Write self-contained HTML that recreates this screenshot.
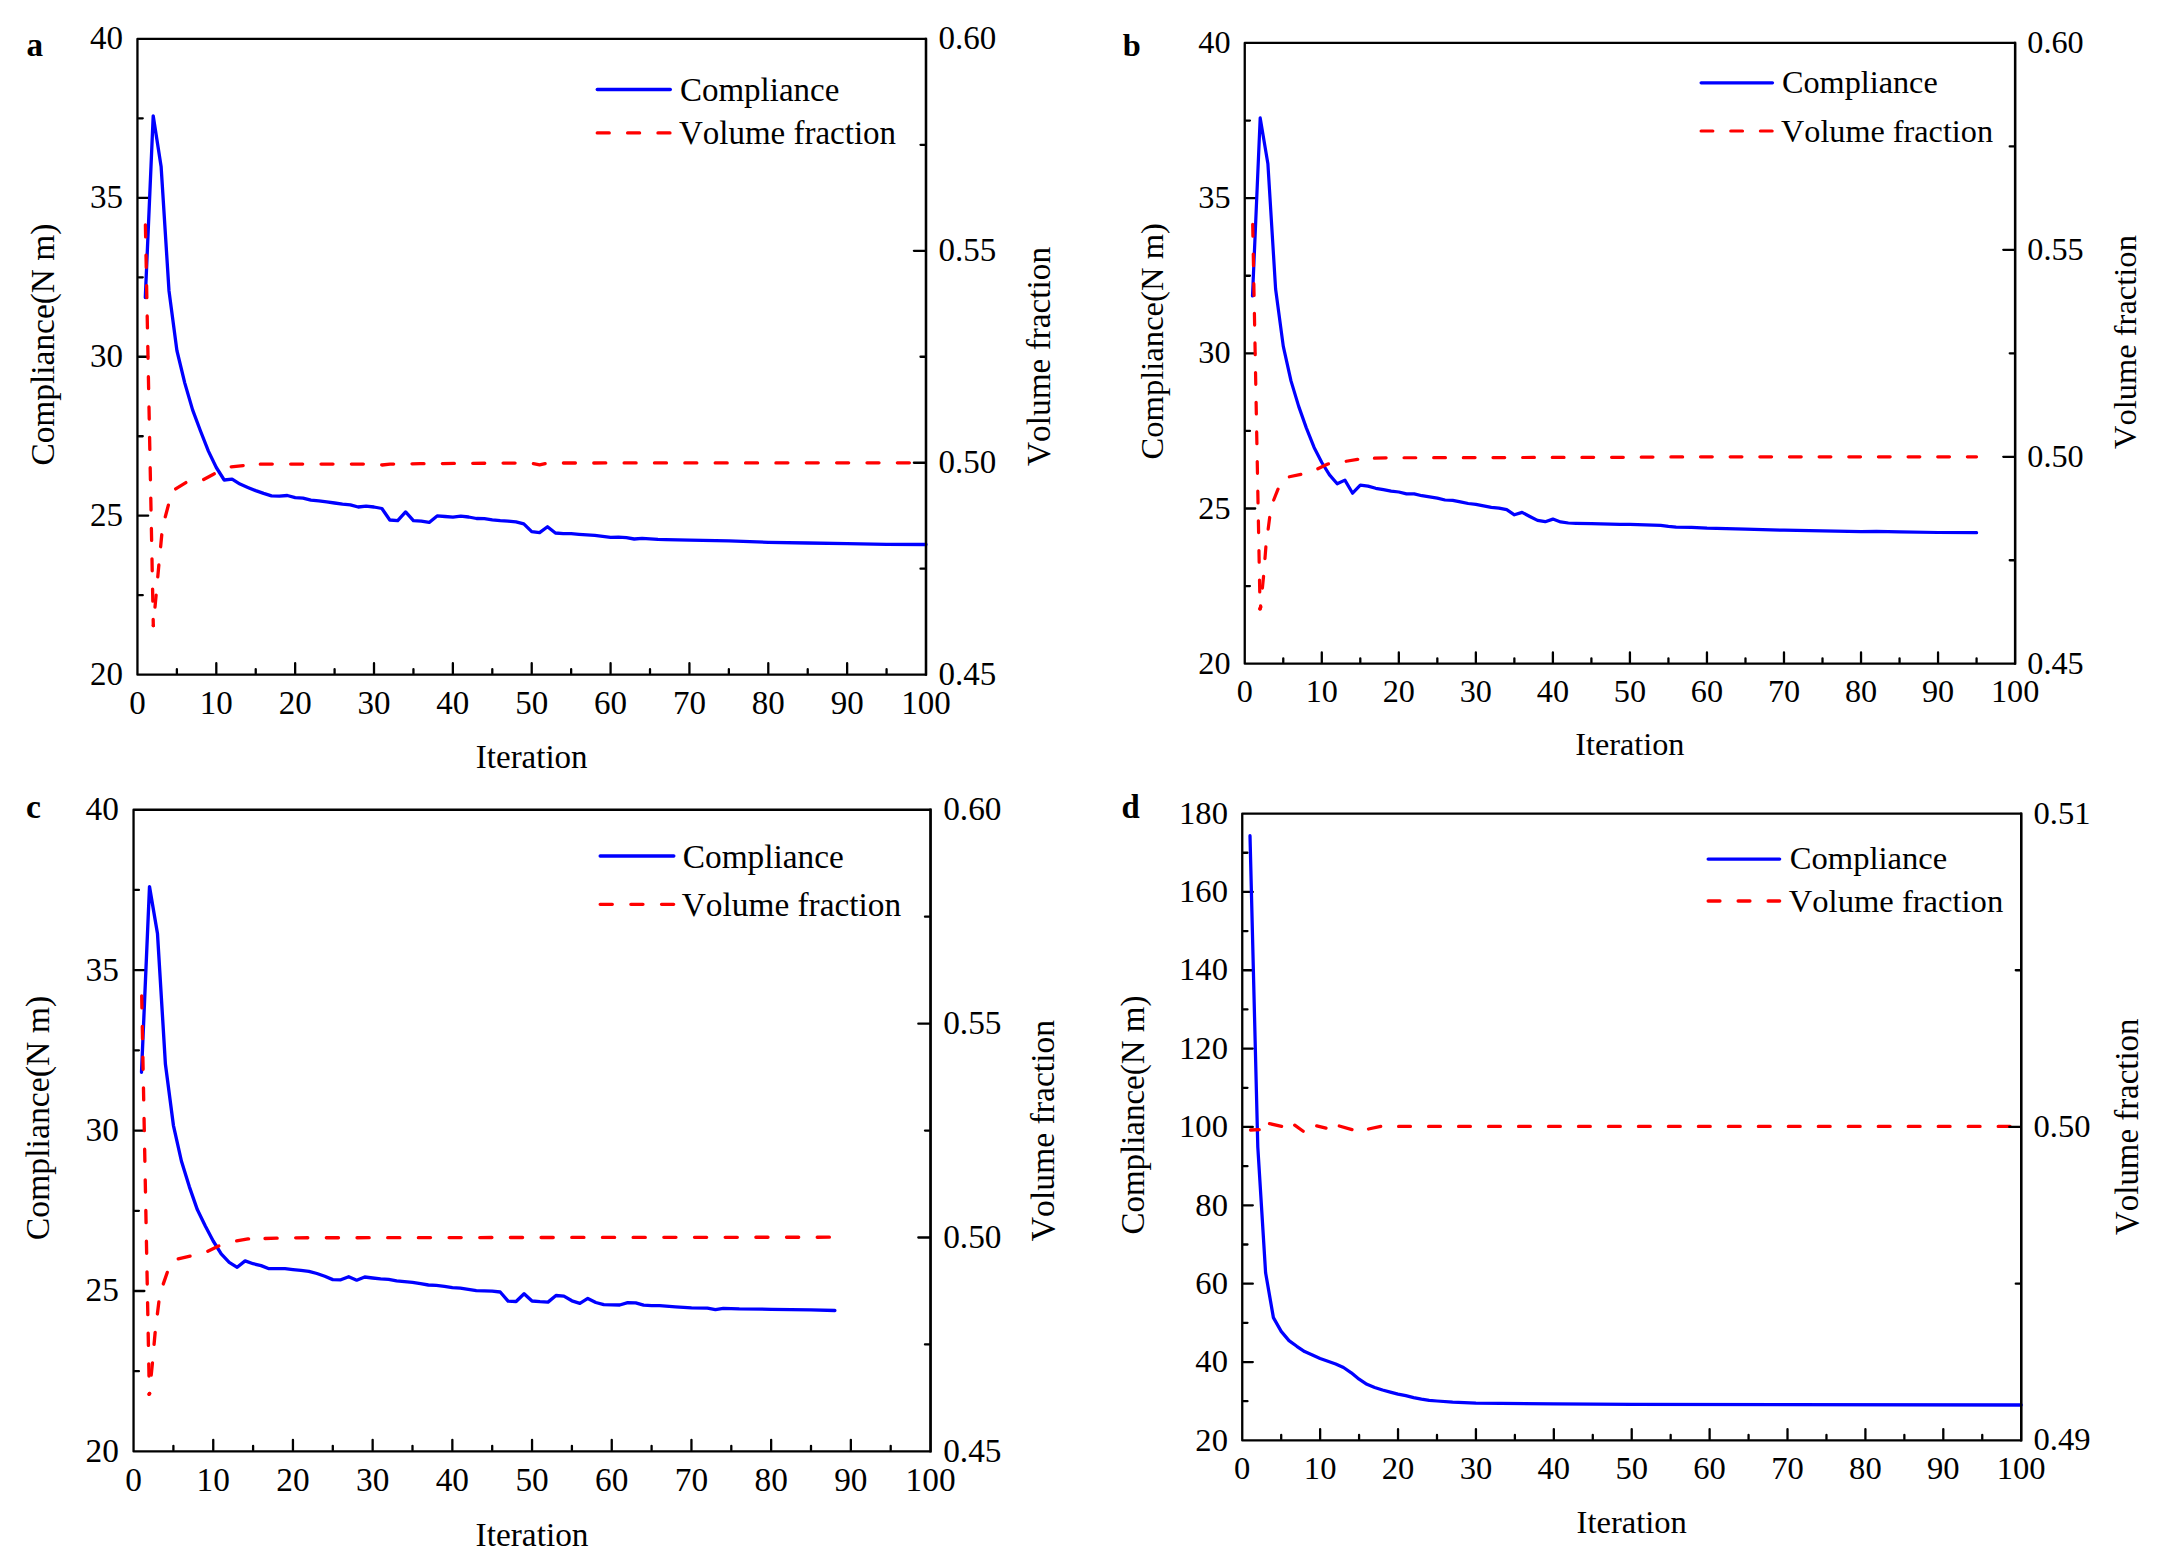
<!DOCTYPE html>
<html lang="en"><head><meta charset="utf-8"><title>Convergence histories</title>
<style>html,body{margin:0;padding:0;background:#fff}svg{display:block}text{font-family:'Liberation Serif','Times New Roman',Times,serif;fill:#000;font-kerning:none;font-variant-ligatures:none}</style>
</head><body>
<svg width="2161" height="1566" viewBox="0 0 2161 1566">
<rect width="2161" height="1566" fill="#fff"/>
<g font-size="33.00">
<path d="M176.88,673.50v-4.35 M216.31,673.50v-10.35 M255.73,673.50v-4.35 M295.16,673.50v-10.35 M334.59,673.50v-4.35 M374.01,673.50v-10.35 M413.44,673.50v-4.35 M452.87,673.50v-10.35 M492.30,673.50v-4.35 M531.72,673.50v-10.35 M571.15,673.50v-4.35 M610.58,673.50v-10.35 M650.01,673.50v-4.35 M689.43,673.50v-10.35 M728.86,673.50v-4.35 M768.29,673.50v-10.35 M807.72,673.50v-4.35 M847.14,673.50v-10.35 M886.57,673.50v-4.35 M138.60,595.18h4.15 M138.60,515.71h9.55 M138.60,436.24h4.15 M138.60,356.77h9.55 M138.60,277.31h4.15 M138.60,197.84h9.55 M138.60,118.37h4.15" fill="none" stroke="#000" stroke-width="2.30" stroke-linecap="round"/>
<path d="M137.45,674.65V38.90H926.00V674.65Z" fill="none" stroke="#000" stroke-width="2.30" stroke-linejoin="round"/>
<path d="M145.3,297.5 L153.2,115.8 L161.1,166.4 L169.0,290.9 L176.9,350.5 L184.8,383.1 L192.6,409.9 L200.5,431.0 L208.4,451.1 L216.3,467.5 L224.2,480.0 L232.1,479.1 L240.0,484.1 L247.8,487.4 L255.7,490.6 L263.6,493.4 L271.5,495.8 L279.4,496.2 L287.3,495.5 L295.2,497.6 L303.0,498.2 L310.9,500.1 L318.8,500.9 L326.7,501.9 L334.6,503.0 L342.5,504.1 L350.4,504.8 L358.2,507.0 L366.1,506.1 L374.0,507.0 L381.9,508.5 L389.8,520.0 L397.7,520.6 L405.6,511.9 L413.4,520.6 L421.3,521.1 L429.2,522.4 L437.1,515.9 L445.0,516.5 L452.9,517.2 L460.8,516.1 L468.6,517.0 L476.5,518.5 L484.4,518.7 L492.3,519.8 L500.2,520.7 L508.1,521.1 L516.0,521.9 L523.8,523.8 L531.7,531.6 L539.6,532.6 L547.5,526.7 L555.4,533.0 L563.3,533.7 L571.2,533.7 L579.0,534.3 L586.9,534.9 L594.8,535.4 L602.7,536.4 L610.6,537.3 L618.5,537.2 L626.4,537.7 L634.2,539.0 L642.1,538.3 L650.0,538.9 L657.9,539.4 L665.8,539.6 L689.4,540.2 L728.9,540.8 L768.3,542.3 L807.7,543.0 L847.1,543.6 L886.6,544.4 L926.0,544.5" fill="none" stroke="#0000ff" stroke-width="3.30" stroke-linejoin="round" stroke-linecap="round"/>
<path d="M145.4,224.9 L153.3,625.6" fill="none" stroke="#ff0000" stroke-width="3.30" stroke-linejoin="round" stroke-linecap="round" stroke-dasharray="12.00 18.36" stroke-dashoffset="0"/>
<path d="M260.3,464.2 L264.0,464.1 L374.0,464.1 L382.0,465.0 L390.0,464.1 L420.0,463.7 L460.0,463.4 L520.0,463.0 L531.8,463.3 L539.6,464.9 L547.5,463.0 L926.0,462.8" fill="none" stroke="#ff0000" stroke-width="3.30" stroke-linejoin="round" stroke-linecap="round" stroke-dasharray="12.00 18.36"/>
<path d="M153.3,625.6 L156.1,595.1 L158.9,564.5 L161.8,534.5 L165.0,517.9 L168.4,505.1 L173.3,490.4 L186.1,482.4 L193.7,481.2 L200.7,481.0 L213.5,474.2 L228.8,467.2 L243.5,465.5 L248.0,465.0 L249.3,464.9" fill="none" stroke="#ff0000" stroke-width="3.30" stroke-linejoin="round" stroke-linecap="round" stroke-dasharray="12.00 18.36" stroke-dashoffset="11.86"/>
<path d="M924.85,568.69h-4.35 M924.85,462.73h-10.95 M924.85,356.77h-4.35 M924.85,250.82h-10.95 M924.85,144.86h-4.35" fill="none" stroke="#000" stroke-width="2.30" stroke-linecap="round"/>
<path d="M926.00,38.90V674.65" fill="none" stroke="#000" stroke-width="2.30" stroke-linecap="square"/>
<text x="137.45" y="713.50" text-anchor="middle">0</text>
<text x="216.31" y="713.50" text-anchor="middle">10</text>
<text x="295.16" y="713.50" text-anchor="middle">20</text>
<text x="374.01" y="713.50" text-anchor="middle">30</text>
<text x="452.87" y="713.50" text-anchor="middle">40</text>
<text x="531.72" y="713.50" text-anchor="middle">50</text>
<text x="610.58" y="713.50" text-anchor="middle">60</text>
<text x="689.43" y="713.50" text-anchor="middle">70</text>
<text x="768.29" y="713.50" text-anchor="middle">80</text>
<text x="847.14" y="713.50" text-anchor="middle">90</text>
<text x="926.00" y="713.50" text-anchor="middle">100</text>
<text x="531.72" y="767.90" text-anchor="middle">Iteration</text>
<text x="123.00" y="685.00" text-anchor="end">20</text>
<text x="123.00" y="526.06" text-anchor="end">25</text>
<text x="123.00" y="367.12" text-anchor="end">30</text>
<text x="123.00" y="208.19" text-anchor="end">35</text>
<text x="123.00" y="49.25" text-anchor="end">40</text>
<text x="938.50" y="684.75">0.45</text>
<text x="938.50" y="472.83">0.50</text>
<text x="938.50" y="260.92">0.55</text>
<text x="938.50" y="49.00">0.60</text>
<text transform="translate(54.20,344.60) rotate(-90)" text-anchor="middle" font-size="33.40">Compliance(N m)</text>
<text transform="translate(1050.10,356.40) rotate(-90)" text-anchor="middle" font-size="33.30">Volume fraction</text>
<text x="26.50" y="56.40" font-weight="bold" font-size="33.20">a</text>
<path d="M597.25,89.50H670.35" stroke="#0000ff" stroke-width="3.30" stroke-linecap="round" fill="none"/>
<text x="679.90" y="101.10">Compliance</text>
<path d="M597.25,132.90H670.35" stroke="#ff0000" stroke-width="3.30" stroke-linecap="round" stroke-dasharray="12.00 18.36" fill="none"/>
<text x="678.90" y="144.00">Volume fraction</text>
</g>
<g font-size="32.23">
<path d="M1283.27,662.55v-4.22 M1321.79,662.55v-10.08 M1360.30,662.55v-4.22 M1398.82,662.55v-10.08 M1437.34,662.55v-4.22 M1475.86,662.55v-10.08 M1514.37,662.55v-4.22 M1552.89,662.55v-10.08 M1591.41,662.55v-4.22 M1629.92,662.55v-10.08 M1668.44,662.55v-4.22 M1706.96,662.55v-10.08 M1745.48,662.55v-4.22 M1783.99,662.55v-10.08 M1822.51,662.55v-4.22 M1861.03,662.55v-10.08 M1899.55,662.55v-4.22 M1938.06,662.55v-10.08 M1976.58,662.55v-4.22 M1245.90,586.11h4.03 M1245.90,508.51h9.30 M1245.90,430.92h4.03 M1245.90,353.33h9.30 M1245.90,275.73h4.03 M1245.90,198.14h9.30 M1245.90,120.54h4.03" fill="none" stroke="#000" stroke-width="2.30" stroke-linecap="round"/>
<path d="M1244.75,663.70V42.95H2015.10V663.70Z" fill="none" stroke="#000" stroke-width="2.30" stroke-linejoin="round"/>
<path d="M1252.5,296.0 L1260.2,117.9 L1267.9,163.8 L1275.6,289.0 L1283.3,346.4 L1291.0,380.9 L1298.7,406.4 L1306.4,428.1 L1314.1,447.4 L1321.8,462.5 L1329.5,474.9 L1337.2,483.8 L1344.9,480.1 L1352.6,493.2 L1360.3,485.2 L1368.0,486.1 L1375.7,488.3 L1383.4,489.6 L1391.1,491.1 L1398.8,492.0 L1406.5,493.9 L1414.2,493.9 L1421.9,495.7 L1429.6,496.9 L1437.3,498.1 L1445.0,500.0 L1452.7,500.4 L1460.4,501.9 L1468.2,503.5 L1475.9,504.4 L1483.6,505.9 L1491.3,507.4 L1499.0,508.1 L1506.7,509.6 L1514.4,514.8 L1522.1,512.4 L1529.8,516.5 L1537.5,520.4 L1545.2,521.7 L1552.9,519.1 L1560.6,521.9 L1568.3,523.0 L1576.0,523.3 L1591.4,523.7 L1619.9,524.3 L1629.9,524.4 L1645.3,524.9 L1660.7,525.3 L1668.4,526.4 L1676.1,527.2 L1691.6,527.3 L1707.0,528.1 L1745.5,529.2 L1784.0,530.2 L1822.5,530.9 L1861.0,531.7 L1876.4,531.3 L1899.5,531.9 L1938.1,532.5 L1976.6,532.7" fill="none" stroke="#0000ff" stroke-width="3.22" stroke-linejoin="round" stroke-linecap="round"/>
<path d="M1252.7,224.4 L1259.9,600.0" fill="none" stroke="#ff0000" stroke-width="3.22" stroke-linejoin="round" stroke-linecap="round" stroke-dasharray="11.72 17.93" stroke-dashoffset="0"/>
<path d="M1259.6,609.0 L1260.9,607.0" fill="none" stroke="#ff0000" stroke-width="3.22" stroke-linejoin="round" stroke-linecap="round"/>
<path d="M1374.4,458.2 L1387.0,457.8 L1620.0,457.3 L1700.0,456.8 L1976.5,456.8" fill="none" stroke="#ff0000" stroke-width="3.22" stroke-linejoin="round" stroke-linecap="round" stroke-dasharray="11.72 17.93"/>
<path d="M1260.3,609.0 L1263.6,576.0 L1265.9,546.6 L1269.7,517.2 L1273.2,501.3 L1278.0,489.2 L1281.5,480.9 L1287.0,477.3 L1301.3,474.2 L1315.3,470.0 L1327.8,464.0 L1343.7,461.7 L1357.5,459.4 L1363.6,459.0" fill="none" stroke="#ff0000" stroke-width="3.22" stroke-linejoin="round" stroke-linecap="round" stroke-dasharray="11.72 17.93" stroke-dashoffset="8.65"/>
<path d="M2013.95,560.24h-4.22 M2013.95,456.78h-10.67 M2013.95,353.32h-4.22 M2013.95,249.87h-10.67 M2013.95,146.41h-4.22" fill="none" stroke="#000" stroke-width="2.30" stroke-linecap="round"/>
<path d="M2015.10,42.95V663.70" fill="none" stroke="#000" stroke-width="2.30" stroke-linecap="square"/>
<text x="1244.75" y="701.98" text-anchor="middle">0</text>
<text x="1321.79" y="701.98" text-anchor="middle">10</text>
<text x="1398.82" y="701.98" text-anchor="middle">20</text>
<text x="1475.86" y="701.98" text-anchor="middle">30</text>
<text x="1552.89" y="701.98" text-anchor="middle">40</text>
<text x="1629.92" y="701.98" text-anchor="middle">50</text>
<text x="1706.96" y="701.98" text-anchor="middle">60</text>
<text x="1783.99" y="701.98" text-anchor="middle">70</text>
<text x="1861.03" y="701.98" text-anchor="middle">80</text>
<text x="1938.06" y="701.98" text-anchor="middle">90</text>
<text x="2015.10" y="701.98" text-anchor="middle">100</text>
<text x="1629.92" y="755.11" text-anchor="middle">Iteration</text>
<text x="1230.59" y="673.81" text-anchor="end">20</text>
<text x="1230.59" y="518.62" text-anchor="end">25</text>
<text x="1230.59" y="363.43" text-anchor="end">30</text>
<text x="1230.59" y="208.25" text-anchor="end">35</text>
<text x="1230.59" y="53.06" text-anchor="end">40</text>
<text x="2027.31" y="673.56">0.45</text>
<text x="2027.31" y="466.65">0.50</text>
<text x="2027.31" y="259.73">0.55</text>
<text x="2027.31" y="52.81">0.60</text>
<text transform="translate(1162.80,341.30) rotate(-90)" text-anchor="middle" font-size="32.62">Compliance(N m)</text>
<text transform="translate(2135.90,342.10) rotate(-90)" text-anchor="middle" font-size="32.52">Volume fraction</text>
<text x="1122.80" y="56.40" font-weight="bold" font-size="32.42">b</text>
<path d="M1701.11,82.80H1772.49" stroke="#0000ff" stroke-width="3.22" stroke-linecap="round" fill="none"/>
<text x="1782.00" y="93.40">Compliance</text>
<path d="M1701.11,131.00H1772.49" stroke="#ff0000" stroke-width="3.22" stroke-linecap="round" stroke-dasharray="11.72 17.93" fill="none"/>
<text x="1781.00" y="142.00">Volume fraction</text>
</g>
<g font-size="33.35">
<path d="M173.40,1450.25v-4.41 M213.25,1450.25v-10.47 M253.10,1450.25v-4.41 M292.95,1450.25v-10.47 M332.80,1450.25v-4.41 M372.65,1450.25v-10.47 M412.50,1450.25v-4.41 M452.35,1450.25v-10.47 M492.20,1450.25v-4.41 M532.05,1450.25v-10.47 M571.90,1450.25v-4.41 M611.75,1450.25v-10.47 M651.60,1450.25v-4.41 M691.45,1450.25v-10.47 M731.30,1450.25v-4.41 M771.15,1450.25v-10.47 M811.00,1450.25v-4.41 M850.85,1450.25v-10.47 M890.70,1450.25v-4.41 M134.70,1371.19h4.21 M134.70,1290.99h9.66 M134.70,1210.78h4.21 M134.70,1130.58h9.66 M134.70,1050.37h4.21 M134.70,970.16h9.66 M134.70,889.96h4.21" fill="none" stroke="#000" stroke-width="2.30" stroke-linecap="round"/>
<path d="M133.55,1451.40V809.75H930.55V1451.40Z" fill="none" stroke="#000" stroke-width="2.30" stroke-linejoin="round"/>
<path d="M141.5,1072.3 L149.5,886.6 L157.5,933.8 L165.4,1064.0 L173.4,1125.3 L181.4,1161.0 L189.3,1186.6 L197.3,1209.6 L205.3,1226.0 L213.2,1241.0 L221.2,1253.9 L229.2,1262.3 L237.2,1267.3 L245.1,1260.9 L253.1,1263.7 L261.1,1265.6 L269.0,1268.7 L277.0,1268.7 L285.0,1268.7 L293.0,1269.6 L300.9,1270.4 L308.9,1271.3 L316.9,1273.5 L324.8,1276.3 L332.8,1279.6 L340.8,1279.8 L348.7,1276.7 L356.7,1280.2 L364.7,1277.0 L372.6,1278.0 L380.6,1278.9 L388.6,1279.4 L396.6,1280.9 L404.5,1281.7 L412.5,1282.4 L420.5,1283.7 L428.4,1285.0 L436.4,1285.4 L444.4,1286.3 L452.4,1287.6 L460.3,1288.1 L468.3,1289.3 L476.3,1290.6 L484.2,1290.9 L492.2,1291.1 L500.2,1292.0 L508.1,1301.1 L516.1,1301.5 L524.1,1293.7 L532.0,1301.0 L540.0,1301.7 L548.0,1302.1 L556.0,1295.5 L563.9,1296.1 L571.9,1300.8 L579.9,1303.3 L587.8,1298.4 L595.8,1302.5 L603.8,1304.7 L611.8,1304.8 L619.7,1305.0 L627.7,1302.7 L635.7,1302.9 L643.6,1305.2 L651.6,1305.6 L659.6,1305.6 L675.5,1306.8 L691.5,1307.8 L707.4,1308.2 L715.4,1309.7 L723.3,1308.3 L739.3,1308.9 L771.2,1309.3 L811.0,1309.9 L834.9,1310.5" fill="none" stroke="#0000ff" stroke-width="3.33" stroke-linejoin="round" stroke-linecap="round"/>
<path d="M141.7,995.8 L149.2,1386.0" fill="none" stroke="#ff0000" stroke-width="3.33" stroke-linejoin="round" stroke-linecap="round" stroke-dasharray="12.13 18.55" stroke-dashoffset="0"/>
<path d="M148.9,1394.3 L149.8,1393.5" fill="none" stroke="#ff0000" stroke-width="3.33" stroke-linejoin="round" stroke-linecap="round"/>
<path d="M265.0,1238.5 L290.0,1237.8 L520.0,1237.5 L835.1,1237.2" fill="none" stroke="#ff0000" stroke-width="3.33" stroke-linejoin="round" stroke-linecap="round" stroke-dasharray="12.13 18.55"/>
<path d="M149.3,1394.0 L152.5,1362.3 L155.2,1331.7 L158.9,1301.7 L162.7,1285.7 L167.3,1272.3 L170.8,1263.4 L176.3,1259.3 L190.3,1256.1 L204.9,1252.6 L218.1,1246.2 L234.0,1241.4 L248.0,1238.9 L253.9,1238.8" fill="none" stroke="#ff0000" stroke-width="3.33" stroke-linejoin="round" stroke-linecap="round" stroke-dasharray="12.13 18.55" stroke-dashoffset="11.58"/>
<path d="M929.40,1344.46h-4.41 M929.40,1237.52h-11.08 M929.40,1130.57h-4.41 M929.40,1023.63h-11.08 M929.40,916.69h-4.41" fill="none" stroke="#000" stroke-width="2.30" stroke-linecap="round"/>
<path d="M930.55,809.75V1451.40" fill="none" stroke="#000" stroke-width="2.30" stroke-linecap="square"/>
<text x="133.55" y="1491.01" text-anchor="middle">0</text>
<text x="213.25" y="1491.01" text-anchor="middle">10</text>
<text x="292.95" y="1491.01" text-anchor="middle">20</text>
<text x="372.65" y="1491.01" text-anchor="middle">30</text>
<text x="452.35" y="1491.01" text-anchor="middle">40</text>
<text x="532.05" y="1491.01" text-anchor="middle">50</text>
<text x="611.75" y="1491.01" text-anchor="middle">60</text>
<text x="691.45" y="1491.01" text-anchor="middle">70</text>
<text x="771.15" y="1491.01" text-anchor="middle">80</text>
<text x="850.85" y="1491.01" text-anchor="middle">90</text>
<text x="930.55" y="1491.01" text-anchor="middle">100</text>
<text x="532.05" y="1545.98" text-anchor="middle">Iteration</text>
<text x="118.90" y="1461.86" text-anchor="end">20</text>
<text x="118.90" y="1301.45" text-anchor="end">25</text>
<text x="118.90" y="1141.03" text-anchor="end">30</text>
<text x="118.90" y="980.62" text-anchor="end">35</text>
<text x="118.90" y="820.21" text-anchor="end">40</text>
<text x="943.18" y="1461.61">0.45</text>
<text x="943.18" y="1247.72">0.50</text>
<text x="943.18" y="1033.84">0.55</text>
<text x="943.18" y="819.96">0.60</text>
<text transform="translate(49.20,1118.00) rotate(-90)" text-anchor="middle" font-size="33.75">Compliance(N m)</text>
<text transform="translate(1053.80,1130.50) rotate(-90)" text-anchor="middle" font-size="33.65">Volume fraction</text>
<text x="26.00" y="818.30" font-weight="bold" font-size="33.55">c</text>
<path d="M600.17,856.00H673.83" stroke="#0000ff" stroke-width="3.33" stroke-linecap="round" fill="none"/>
<text x="682.80" y="867.50">Compliance</text>
<path d="M600.17,904.30H673.83" stroke="#ff0000" stroke-width="3.33" stroke-linecap="round" stroke-dasharray="12.13 18.55" fill="none"/>
<text x="681.80" y="915.60">Volume fraction</text>
</g>
<g font-size="32.59">
<path d="M1281.20,1439.25v-4.28 M1320.14,1439.25v-10.21 M1359.09,1439.25v-4.28 M1398.04,1439.25v-10.21 M1436.99,1439.25v-4.28 M1475.93,1439.25v-10.21 M1514.88,1439.25v-4.28 M1553.83,1439.25v-10.21 M1592.78,1439.25v-4.28 M1631.72,1439.25v-10.21 M1670.67,1439.25v-4.28 M1709.62,1439.25v-10.21 M1748.57,1439.25v-4.28 M1787.51,1439.25v-10.21 M1826.46,1439.25v-4.28 M1865.41,1439.25v-10.21 M1904.36,1439.25v-4.28 M1943.30,1439.25v-10.21 M1982.25,1439.25v-4.28 M1243.40,1401.22h4.08 M1243.40,1362.04h9.42 M1243.40,1322.87h4.08 M1243.40,1283.69h9.42 M1243.40,1244.51h4.08 M1243.40,1205.33h9.42 M1243.40,1166.15h4.08 M1243.40,1126.97h9.42 M1243.40,1087.80h4.08 M1243.40,1048.62h9.42 M1243.40,1009.44h4.08 M1243.40,970.26h9.42 M1243.40,931.08h4.08 M1243.40,891.91h9.42 M1243.40,852.73h4.08" fill="none" stroke="#000" stroke-width="2.30" stroke-linecap="round"/>
<path d="M1242.25,1440.40V813.55H2021.20V1440.40Z" fill="none" stroke="#000" stroke-width="2.30" stroke-linejoin="round"/>
<path d="M1250.0,835.7 L1257.8,1147.0 L1265.6,1272.8 L1273.4,1317.6 L1281.2,1331.4 L1289.0,1340.6 L1296.8,1346.3 L1304.6,1351.6 L1312.4,1355.1 L1320.1,1358.5 L1327.9,1361.3 L1335.7,1364.0 L1343.5,1367.5 L1351.3,1372.8 L1359.1,1379.2 L1366.9,1384.3 L1374.7,1387.5 L1382.5,1390.0 L1390.3,1392.1 L1398.0,1394.1 L1405.8,1395.7 L1413.6,1397.6 L1421.4,1399.2 L1429.2,1400.3 L1437.0,1401.0 L1452.6,1402.2 L1475.9,1403.1 L1553.8,1403.8 L1631.7,1404.3 L2021.2,1405.0" fill="none" stroke="#0000ff" stroke-width="3.26" stroke-linejoin="round" stroke-linecap="round"/>
<path d="M1250.5,1130.0 L1259.2,1129.6 M1269.5,1123.6 L1281.6,1126.3 M1294.7,1125.1 L1303.2,1131.2 M1316.7,1125.9 L1326.0,1128.1 M1339.3,1126.0 L1352.0,1129.6 M1368.5,1129.0 L1380.7,1126.4" fill="none" stroke="#ff0000" stroke-width="3.26" stroke-linejoin="round" stroke-linecap="round"/>
<path d="M1398.6,1126.4 L2021.2,1126.4" fill="none" stroke="#ff0000" stroke-width="3.26" stroke-linejoin="round" stroke-linecap="round" stroke-dasharray="11.85 18.13"/>
<path d="M2020.05,1283.69h-4.28 M2020.05,1126.97h-10.80 M2020.05,970.26h-4.28" fill="none" stroke="#000" stroke-width="2.30" stroke-linecap="round"/>
<path d="M2021.20,813.55V1440.40" fill="none" stroke="#000" stroke-width="2.30" stroke-linecap="square"/>
<text x="1242.25" y="1479.11" text-anchor="middle">0</text>
<text x="1320.14" y="1479.11" text-anchor="middle">10</text>
<text x="1398.04" y="1479.11" text-anchor="middle">20</text>
<text x="1475.93" y="1479.11" text-anchor="middle">30</text>
<text x="1553.83" y="1479.11" text-anchor="middle">40</text>
<text x="1631.72" y="1479.11" text-anchor="middle">50</text>
<text x="1709.62" y="1479.11" text-anchor="middle">60</text>
<text x="1787.51" y="1479.11" text-anchor="middle">70</text>
<text x="1865.41" y="1479.11" text-anchor="middle">80</text>
<text x="1943.30" y="1479.11" text-anchor="middle">90</text>
<text x="2021.20" y="1479.11" text-anchor="middle">100</text>
<text x="1631.72" y="1532.83" text-anchor="middle">Iteration</text>
<text x="1227.93" y="1450.62" text-anchor="end">20</text>
<text x="1227.93" y="1372.26" text-anchor="end">40</text>
<text x="1227.93" y="1293.91" text-anchor="end">60</text>
<text x="1227.93" y="1215.55" text-anchor="end">80</text>
<text x="1227.93" y="1137.20" text-anchor="end">100</text>
<text x="1227.93" y="1058.84" text-anchor="end">120</text>
<text x="1227.93" y="980.48" text-anchor="end">140</text>
<text x="1227.93" y="902.13" text-anchor="end">160</text>
<text x="1227.93" y="823.77" text-anchor="end">180</text>
<text x="2033.54" y="1450.37">0.49</text>
<text x="2033.54" y="1136.95">0.50</text>
<text x="2033.54" y="823.52">0.51</text>
<text transform="translate(1143.70,1115.10) rotate(-90)" text-anchor="middle" font-size="32.98">Compliance(N m)</text>
<text transform="translate(2137.80,1126.75) rotate(-90)" text-anchor="middle" font-size="32.88">Volume fraction</text>
<text x="1121.60" y="817.60" font-weight="bold" font-size="32.79">d</text>
<path d="M1708.13,859.10H1779.67" stroke="#0000ff" stroke-width="3.26" stroke-linecap="round" fill="none"/>
<text x="1789.80" y="869.40">Compliance</text>
<path d="M1708.13,901.00H1779.67" stroke="#ff0000" stroke-width="3.26" stroke-linecap="round" stroke-dasharray="11.85 18.13" fill="none"/>
<text x="1788.80" y="912.00">Volume fraction</text>
</g>
</svg>
</body></html>
